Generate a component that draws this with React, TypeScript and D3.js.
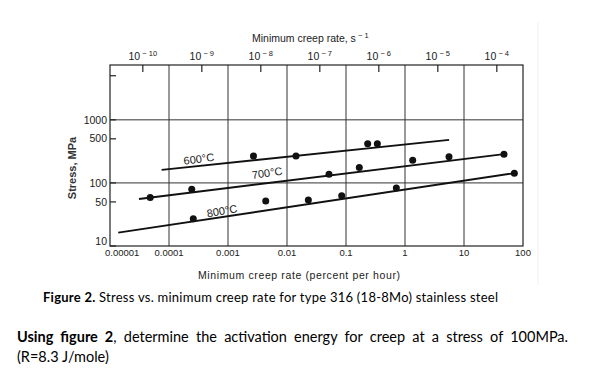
import React, { useLayoutEffect, useRef } from "react";
import * as d3 from "d3";

// ---- data ----
const rateTicks = [0.00001, 0.0001, 0.001, 0.01, 0.1, 1, 10, 100];
const rateLabels = ["0.00001", "0.0001", "0.001", "0.01", "0.1", "1", "10", "100"];
const secExponents = [-10, -9, -8, -7, -6, -5, -4];
const stressTicks = [5000, 1000, 500, 100, 50, 10];
const stressLabels = ["", "1000", "500", "100", "50", "10"];
const stressGrid = [1000, 100];

const series = ["600°C", "700°C", "800°C"];
const fitLines: [number, number][][] = [
  [[7.5e-5, 161], [5.6, 482]],
  [[3.1e-5, 55.7], [47.6, 286]],
  [[1.38e-5, 16.3], [71, 142.6]],
];
const points600: [number, number][] = [[0.0027, 268], [0.0142, 268], [0.233, 416], [0.34, 416]];
const points700: [number, number][] = [[4.8e-5, 58.5], [2.43e-4, 79.4], [0.0515, 137], [0.168, 175], [1.35, 229], [5.57, 261], [47.6, 286]];
const points800: [number, number][] = [[2.58e-4, 27.1], [0.00436, 51.8], [0.023, 53.7], [0.0846, 62.8], [0.713, 83.4], [71.3, 142.6]];
const seriesPoints = [points600, points700, points800];
const labelPos: [number, number][] = [[3.2e-4, 240], [0.0046, 144], [7.9e-4, 36]];

const caption = "Stress vs. minimum creep rate for type 316 (18-8Mo) stainless steel";
const questionBold = "Using figure 2";
const questionRest = ", determine the activation energy for creep at a stress of 100MPa.";
const questionLine2 = "(R=8.3 J/mole)";

const W = 611, H = 381;
const x = d3.scaleLog().domain([1e-5, 100]).range([110, 523]);
const y = d3.scaleLog().domain([10, 7400]).range([246, 65]);
const SEC_TO_PCT_PER_HOUR = 3600 * 100;

const chartFont = "'Liberation Sans', Arial, sans-serif";
const textFont = "Lato, 'Open Sans', sans-serif";
const ink = "#1a1a1a";

export default function App() {
  const qRef = useRef<SVGTextElement>(null);
  useLayoutEffect(() => {
    document.body.style.margin = "0";
    const el = qRef.current;
    if (el) {
      el.setAttribute("word-spacing", "0");
      const len = el.getComputedTextLength();
      const words = (questionBold + questionRest).split(" ").length;
      const target = 568 - 17;
      const ws = (target - len) / (words - 1);
      el.setAttribute("word-spacing", String(ws));
    }
  }, []);

  const line = d3.line<[number, number]>().x(d => x(d[0])).y(d => y(d[1]));
  const left = x(1e-5), right = x(100), top = y(7400), bottom = y(10);

  return (
    <svg width={W} height={H} style={{ position: "absolute", left: 0, top: 0, background: "#fff" }}>
      {/* faint scan border */}
      <line x1={538} x2={538} y1={22} y2={285} stroke="#f0f0f0" />
      {/* grid */}
      {rateTicks.slice(1, -1).map(t => (
        <line key={"vg" + t} x1={x(t)} x2={x(t)} y1={top} y2={bottom} stroke="#333" strokeWidth={1} />
      ))}
      {stressGrid.map(t => (
        <line key={"hg" + t} x1={left} x2={right} y1={y(t)} y2={y(t)} stroke="#333" strokeWidth={1} />
      ))}
      {/* frame */}
      <rect x={left} y={top} width={right - left} height={bottom - top} fill="none" stroke="#222" strokeWidth={1.2} />
      {/* left ticks and labels */}
      {stressTicks.map((t, i) => (
        <g key={"yt" + t}>
          <line x1={left} x2={left + 6} y1={y(t)} y2={y(t)} stroke="#222" strokeWidth={1.2} />
          <text x={left - 3} y={y(t)} dy={i === stressTicks.length - 1 ? "-0.05em" : "0.35em"} textAnchor="end" fontFamily={chartFont} fontSize={10.5} fill={ink}>{stressLabels[i]}</text>
        </g>
      ))}
      {/* bottom labels */}
      {rateTicks.map((t, i) => (
        <text key={"xl" + t} x={i === 0 ? x(t) - 5 : x(t)} y={bottom + 10} textAnchor={i === 0 ? "start" : "middle"} fontFamily={chartFont} fontSize={9.5} fill={ink}>{rateLabels[i]}</text>
      ))}
      {/* top secondary axis, s^-1 */}
      {secExponents.map(e => {
        const px = x(Math.pow(10, e) * SEC_TO_PCT_PER_HOUR);
        return (
          <g key={"st" + e}>
            <line x1={px} x2={px} y1={top} y2={top + 7} stroke="#222" strokeWidth={1.2} />
            <text x={px} y={top - 5} textAnchor="middle" fontFamily={chartFont} fontSize={10.5} fill={ink}>
              10<tspan dy={-4} fontSize={7.5}>{" − " + Math.abs(e)}</tspan>
            </text>
          </g>
        );
      })}
      <text x={252} y={42} fontFamily={chartFont} fontSize={10.5} fill={ink}>
        Minimum creep rate, s<tspan dy={-4} fontSize={7.5}>{" − 1"}</tspan>
      </text>
      {/* axis titles */}
      <text x={299} y={279} textAnchor="middle" fontFamily={chartFont} fontSize={10.5} fill={ink} textLength={202} lengthAdjust="spacing">Minimum creep rate (percent per hour)</text>
      <text transform="translate(76,168) rotate(-90)" textAnchor="middle" fontFamily={chartFont} fontSize={11} fontWeight="bold" fill="#333">Stress, MPa</text>
      {/* series */}
      {series.map((s, i) => {
        const [a, b] = fitLines[i];
        const ang = Math.atan2(y(b[1]) - y(a[1]), x(b[0]) - x(a[0])) * 180 / Math.PI;
        const [lx, ly] = labelPos[i];
        return (
          <g key={s}>
            <path d={line(fitLines[i]) || ""} stroke="#111" strokeWidth={1.9} fill="none" />
            {seriesPoints[i].map((p, j) => (
              <circle key={j} cx={x(p[0])} cy={y(p[1])} r={3.5} fill="#111" />
            ))}
            <text transform={`translate(${x(lx)},${y(ly)}) rotate(${ang - 1.5})`} textAnchor="middle" dy="0.35em" fontFamily={chartFont} fontSize={11} fill={ink}>{s}</text>
          </g>
        );
      })}
      {/* caption */}
      <text x={43} y={302} fontFamily={textFont} fontSize={13} fill="#000" textLength={455} lengthAdjust="spacing">
        <tspan fontWeight="bold">Figure 2.</tspan> {caption}
      </text>
      <text ref={qRef} x={17} y={342} fontFamily={textFont} fontSize={14.5} fill="#000">
        <tspan fontWeight="bold">{questionBold}</tspan>{questionRest}
      </text>
      <text x={17} y={362} fontFamily={textFont} fontSize={14.5} fill="#000">{questionLine2}</text>
    </svg>
  );
}
